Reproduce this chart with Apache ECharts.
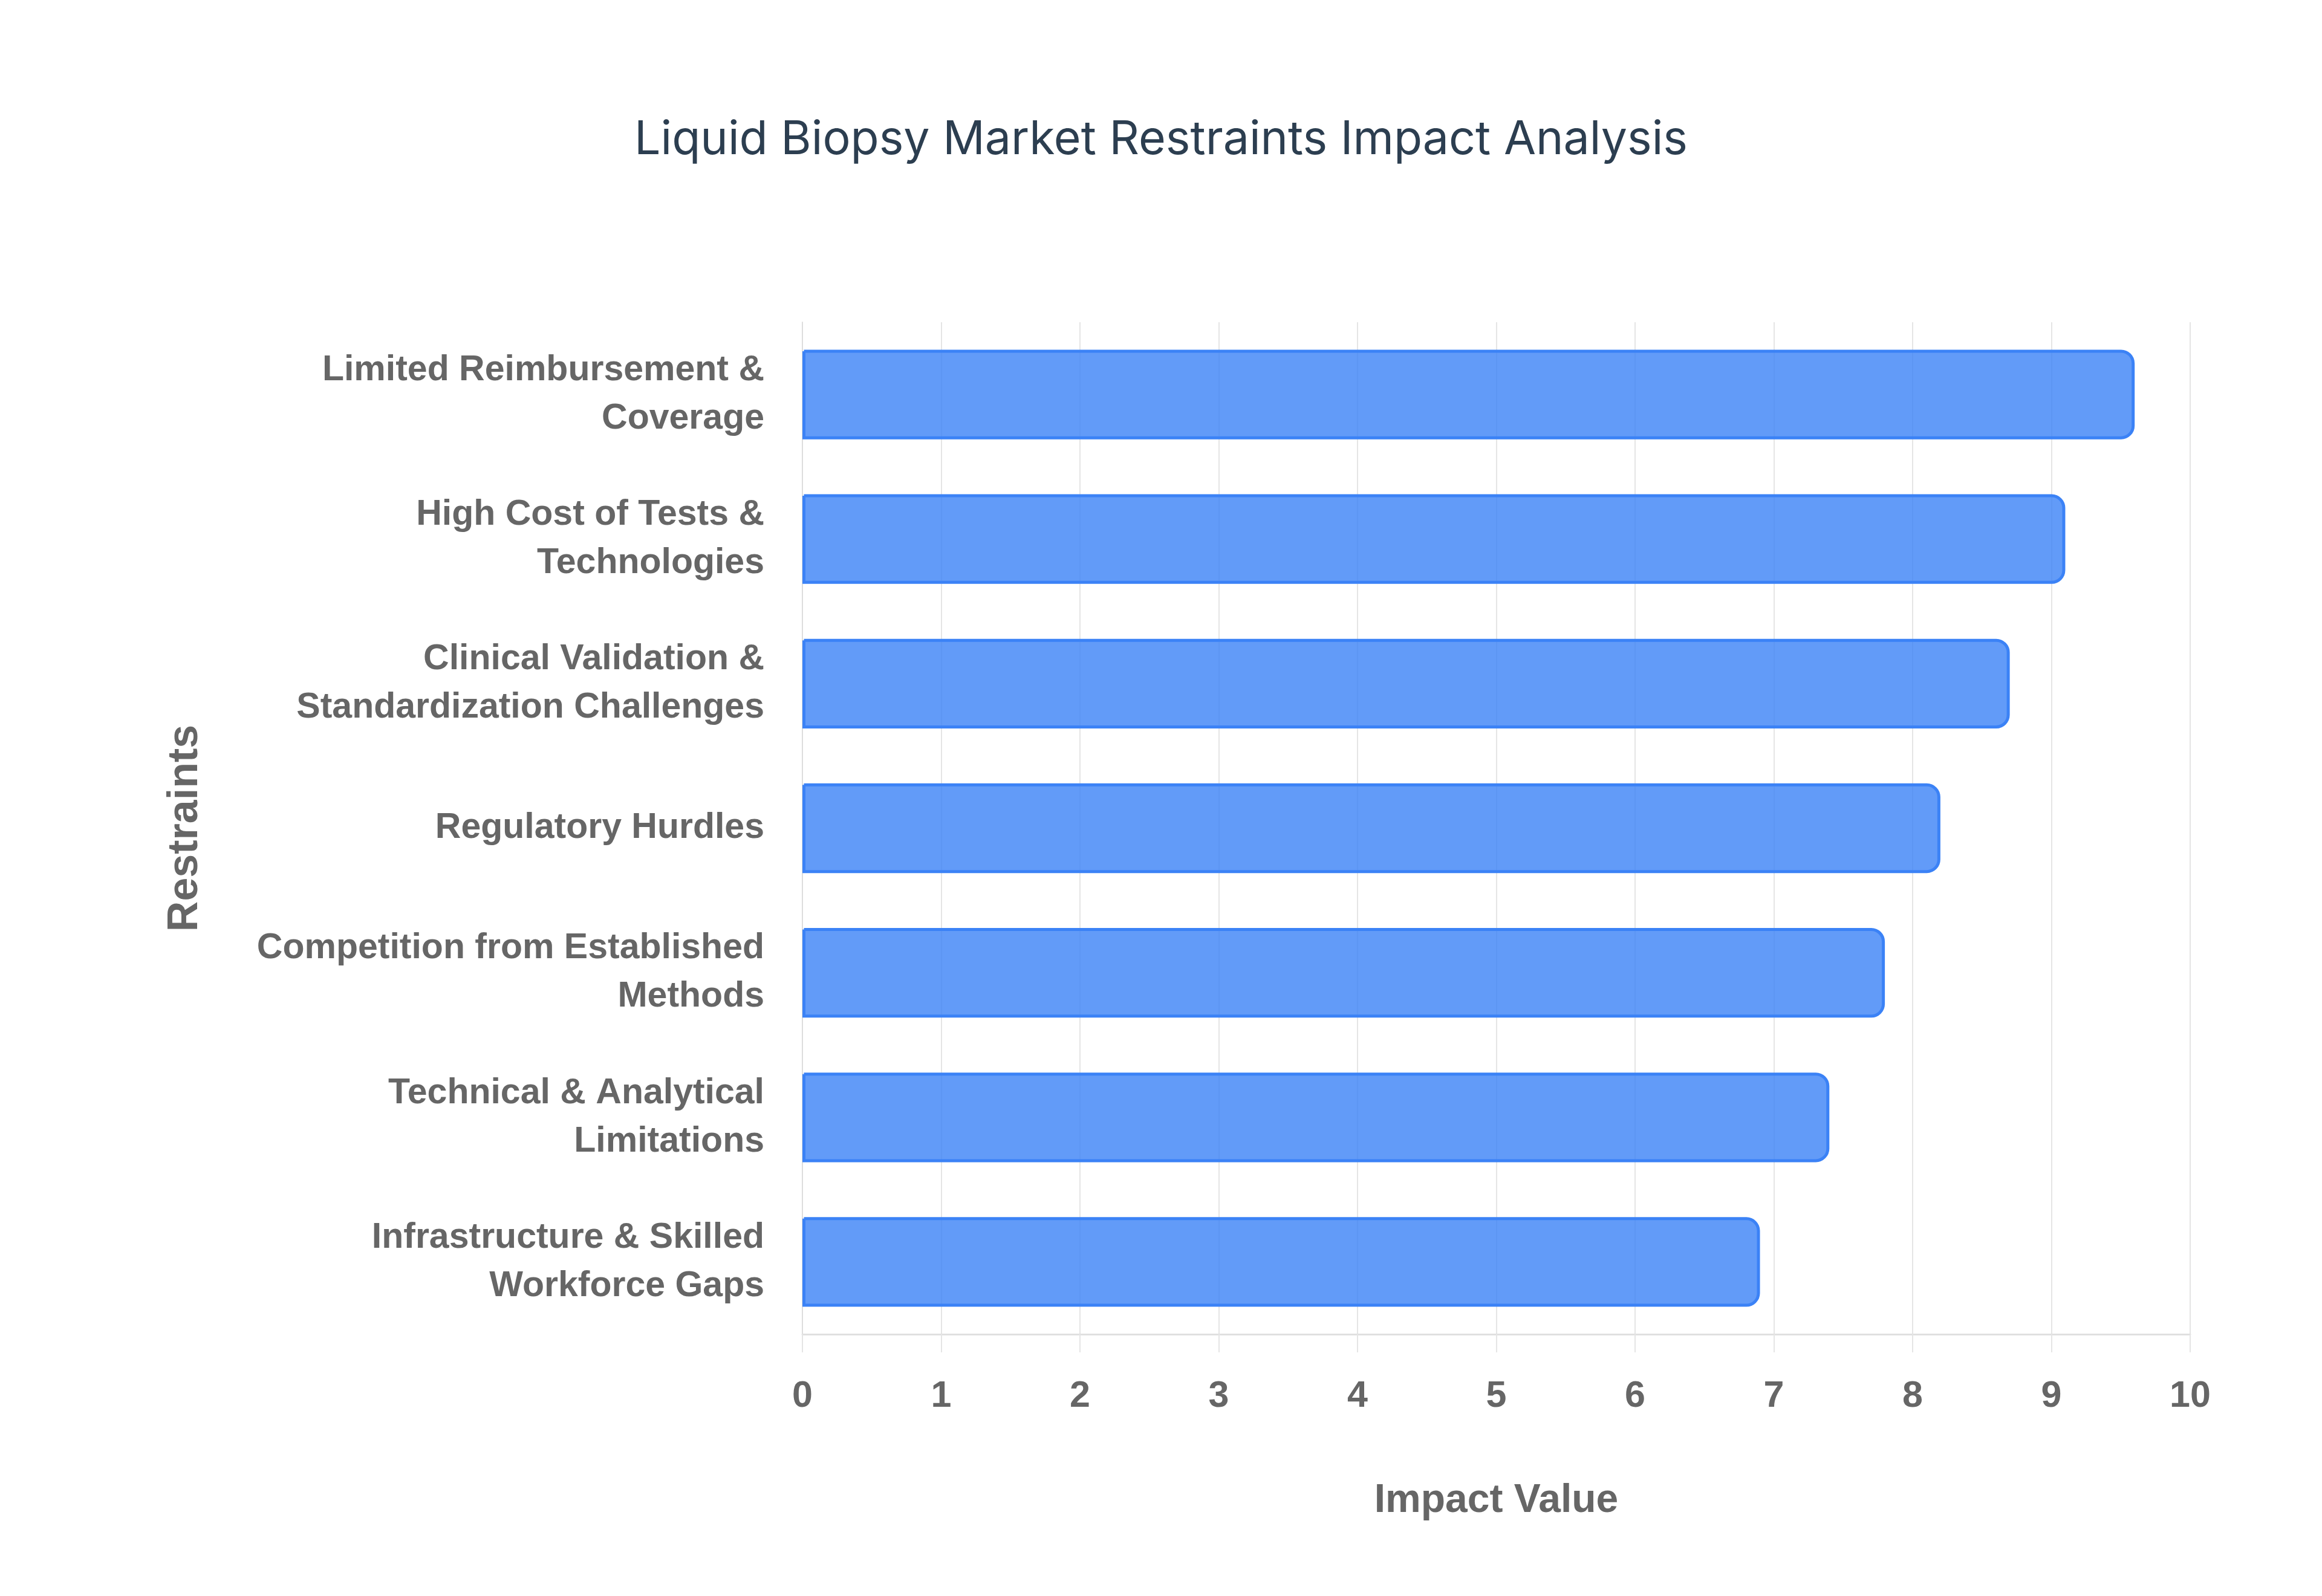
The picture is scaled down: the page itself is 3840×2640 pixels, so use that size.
<!DOCTYPE html>
<html>
<head>
<meta charset="utf-8">
<script src="https://cdn.jsdelivr.net/npm/echarts@6/dist/echarts.min.js"></script>
<style>
html,body{margin:0;padding:0;background:#fff;}
#chart{width:3840px;height:2640px;}
</style>
</head>
<body>
<div id="chart"></div>
<script>
const titleText = 'Liquid Biopsy Market Restraints Impact Analysis';
const categories = [
  'Limited Reimbursement &\nCoverage',
  'High Cost of Tests &\nTechnologies',
  'Clinical Validation &\nStandardization Challenges',
  'Regulatory Hurdles',
  'Competition from Established\nMethods',
  'Technical & Analytical\nLimitations',
  'Infrastructure & Skilled\nWorkforce Gaps'
];
const impactValues = [9.6, 9.1, 8.7, 8.2, 7.8, 7.4, 6.9];
const xAxisName = 'Impact Value';
const yAxisName = 'Restraints';

const chart = echarts.init(document.getElementById('chart'), null, {renderer: 'canvas', devicePixelRatio: 1});
const labelFont = '"Liberation Sans", Arial, sans-serif';
chart.setOption({
  backgroundColor: '#ffffff',
  animation: false,
  title: {
    text: titleText,
    left: 'center',
    top: 188,
    textStyle: {
      fontFamily: 'Inter, "Noto Sans", sans-serif',
      fontWeight: 'normal',
      fontSize: 77,
      color: '#2c3e50'
    }
  },
  grid: {left: 1327, right: 218, top: 533, bottom: 433, containLabel: false},
  xAxis: {
    type: 'value',
    min: 0,
    max: 10,
    interval: 1,
    name: xAxisName,
    nameLocation: 'middle',
    nameGap: 243,
    nameTextStyle: {fontFamily: labelFont, fontWeight: 'bold', fontSize: 66, color: '#666666'},
    axisLine: {show: true, lineStyle: {color: '#e0e0e0', width: 3}},
    axisTick: {show: true, length: 30, lineStyle: {color: '#e5e5e5', width: 2}},
    axisLabel: {margin: 73, fontFamily: labelFont, fontWeight: 'bold', fontSize: 61, color: '#666666'},
    splitLine: {show: true, lineStyle: {color: '#e5e5e5', width: 2}}
  },
  yAxis: {
    type: 'category',
    data: categories,
    inverse: true,
    name: yAxisName,
    nameLocation: 'middle',
    nameGap: 985,
    nameTextStyle: {fontFamily: labelFont, fontWeight: 'bold', fontSize: 70, color: '#666666'},
    axisLine: {show: true, lineStyle: {color: '#dddddd', width: 2}},
    axisTick: {show: false},
    axisLabel: {margin: 63, fontFamily: labelFont, fontWeight: 'bold', fontSize: 59, lineHeight: 80, color: '#666666'},
    splitLine: {show: false}
  },
  series: [{
    type: 'bar',
    data: impactValues,
    barCategoryGap: '38%',
    itemStyle: {
      color: 'rgba(59,130,246,0.8)',
      borderColor: '#3b82f6',
      borderWidth: 5,
      borderRadius: [0, 20, 20, 0]
    }
  }]
});
</script>
</body>
</html>
